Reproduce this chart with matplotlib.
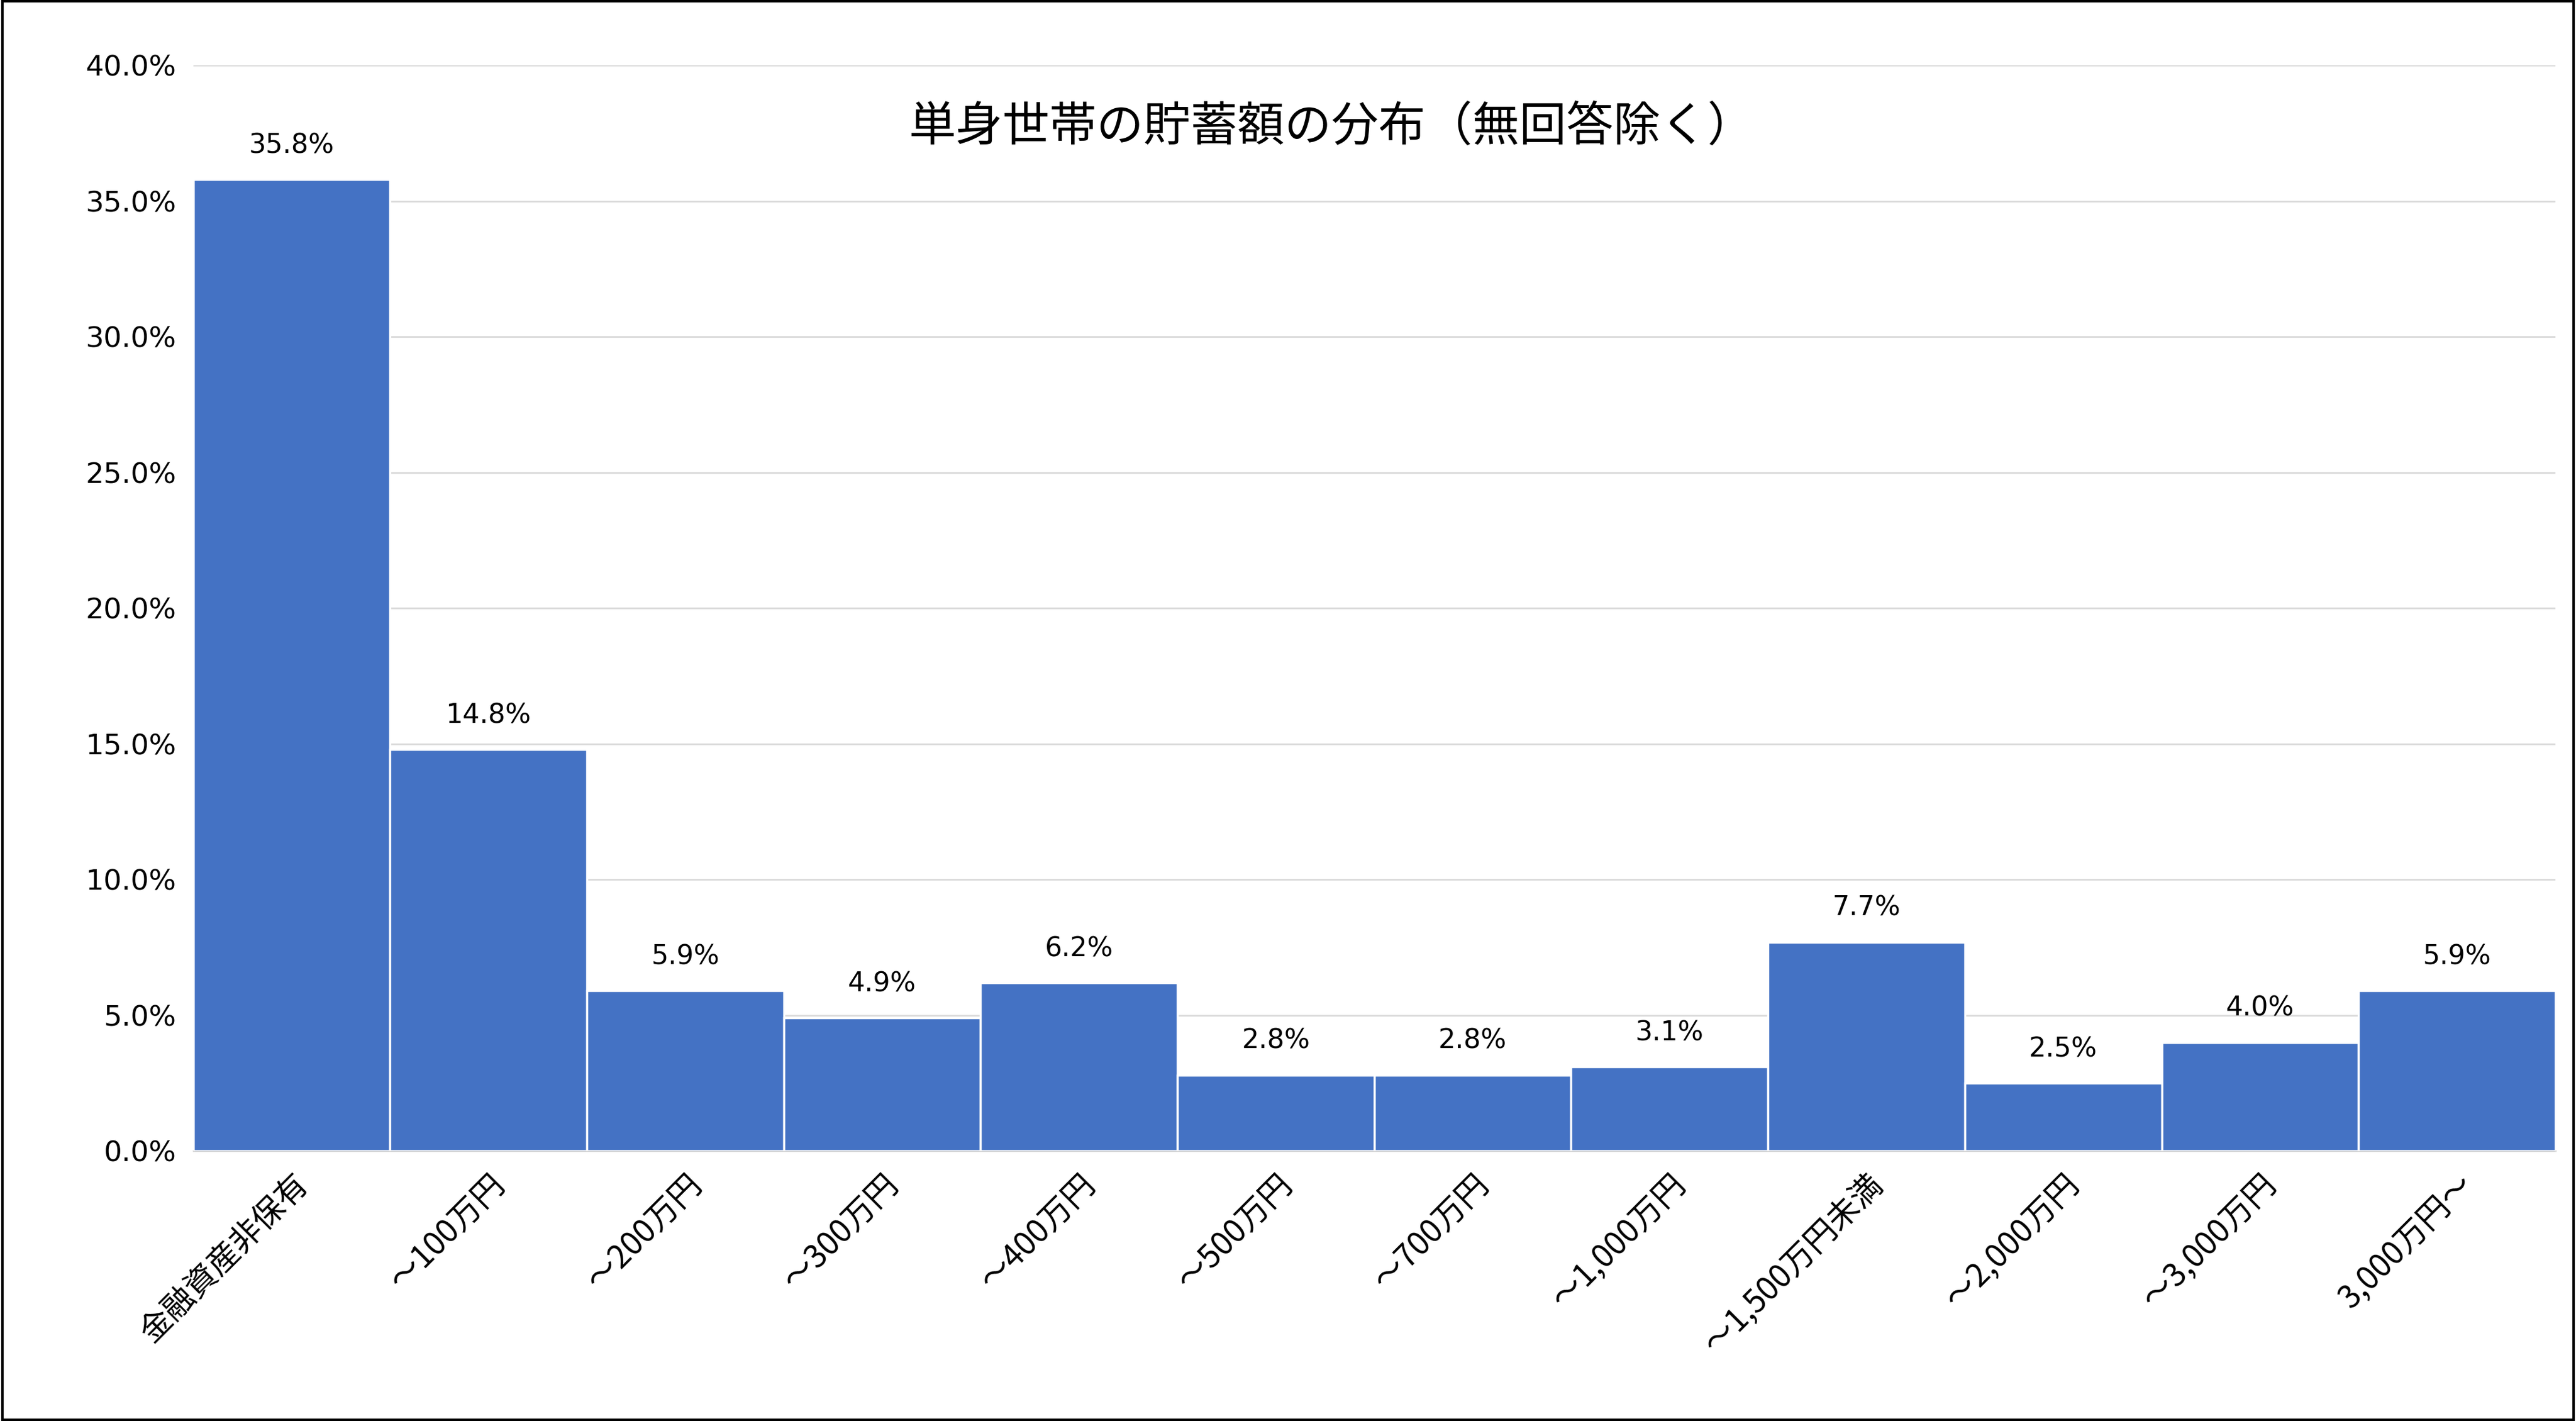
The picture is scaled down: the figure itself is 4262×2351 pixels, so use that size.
import matplotlib
matplotlib.use("Agg")
import matplotlib.pyplot as plt
from matplotlib.ticker import FuncFormatter, MultipleLocator

categories = ["金融資産非保有", "～100万円", "～200万円", "～300万円", "～400万円", "～500万円",
              "～700万円", "～1,000万円", "～1,500万円未満", "～2,000万円", "～3,000万円", "3,000万円～"]
values = [35.8, 14.8, 5.9, 4.9, 6.2, 2.8, 2.8, 3.1, 7.7, 2.5, 4.0, 5.9]
title = "単身世帯の貯蓄額の分布（無回答除く）"

jp = "Noto Sans CJK JP"
fig = plt.figure(figsize=(42.62, 23.51), dpi=100)
ax = fig.add_axes([0.075, 0.19, 0.917, 0.764])
x = range(len(values))
ax.bar(x, values, width=1.0, color="#4472C4", edgecolor="white", linewidth=2.5, zorder=3)
ax.set_xlim(-0.5, len(values) - 0.5)
ax.set_ylim(0, 40)
ax.yaxis.set_major_locator(MultipleLocator(5))
ax.yaxis.set_major_formatter(FuncFormatter(lambda v, p: f"{v:.1f}%"))
ax.grid(axis="y", color="#D9D9D9", linewidth=2, zorder=0)
for s in ["top", "right", "left"]:
    ax.spines[s].set_visible(False)
ax.spines["bottom"].set_color("#D9D9D9")
ax.spines["bottom"].set_linewidth(2)
ax.tick_params(axis="both", length=0, labelsize=34, pad=20)
ax.set_xticks(list(x))
ax.set_xticklabels(categories, rotation=45, ha="right", rotation_mode="anchor",
                   fontfamily=jp, fontsize=38)
for i, v in enumerate(values):
    ax.annotate(f"{v:.1f}%", (i, v), xytext=(0, 25), textcoords="offset points",
                ha="center", va="bottom", fontsize=32)
fig.text(0.517, 0.91, title, ha="center", va="center", fontfamily=jp, fontsize=56)
fig.patches.append(plt.Rectangle((0.001, 0.001), 0.998, 0.998, transform=fig.transFigure,
                                 fill=False, edgecolor="black", linewidth=3))
fig.savefig("out.png", dpi=100)
